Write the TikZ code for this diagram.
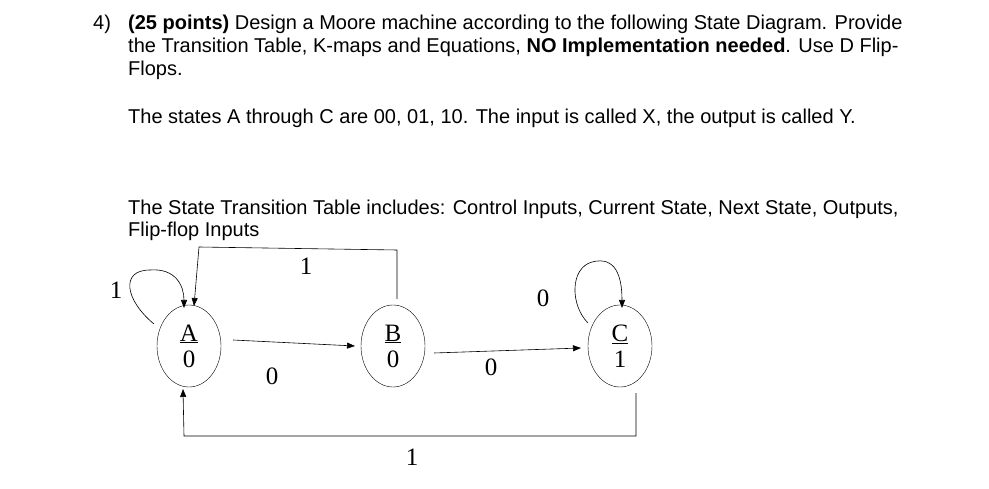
\documentclass[tikz,border=0pt]{standalone}
\usepackage{fontspec}
\setmainfont{Liberation Sans}
\newfontfamily\serifx{Liberation Serif}
\usetikzlibrary{arrows.meta,shapes.geometric}
\begin{document}
\begin{tikzpicture}[x=1pt,y=-1pt,
  st/.style={draw,ellipse,minimum width=64pt,minimum height=82pt,inner sep=0pt,font=\serifx\fontsize{25}{26}\selectfont,align=center},
  ed/.style={-{Triangle[length=8pt,width=6pt]},line width=0.6pt},
  lb/.style={font=\serifx\fontsize{25}{26}\selectfont},
  tx/.style={anchor=base west,font=\fontsize{20}{23}\selectfont,inner sep=0pt}]
\useasboundingbox (0,0) rectangle (989,489);
\node[tx] (t0) at (93,30) {4)};
\node[tx] (t1) at (128,30) {\textbf{(25 points)} Design a Moore machine according to the following State Diagram. Provide};
\node[tx] (t2) at (128,53) {the Transition Table, K-maps and Equations, \textbf{NO Implementation needed}. Use D Flip-};
\node[tx] (t3) at (128,76) {Flops.};
\node[tx] (t4) at (128,124) {The states A through C are 00, 01, 10. The input is called X, the output is called Y.};
\node[tx] (t5) at (128,215) {The State Transition Table includes: Control Inputs, Current State, Next State, Outputs,};
\node[tx] (t6) at (128,237) {Flip-flop Inputs};
\node[st] (A) at (189,346) {\underline{A}\\0};
\node[st] (B) at (393,346) {\underline{B}\\0};
\node[st] (C) at (620,346) {\underline{C}\\1};
\coordinate (Aloop) at (154,324);
\coordinate (Atop) at (184,308);
\draw[ed] (Aloop) .. controls (125,300) and (120,270) .. (150,270) .. controls (175,268) and (184,285) .. (Atop);
\node[lb] (l1) at (116,290) {1};
\coordinate (Btop) at (397,299);
\coordinate (Atop2) at (194,306);
\draw[ed] (Btop) -- (397,250) -- (199,247) -- (Atop2);
\node[lb] (l2) at (306,266) {1};
\coordinate (As) at (233,340);
\coordinate (Be) at (355,346);
\draw[ed] (As) -- (Be);
\node[lb] (l3) at (272,376) {0};
\coordinate (Bs) at (434,353);
\coordinate (Ce) at (581,348);
\draw[ed] (Bs) -- (Ce);
\node[lb] (l4) at (491,367) {0};
\coordinate (Cloop) at (588,323);
\coordinate (Ctop) at (622,308);
\draw[ed] (Cloop) .. controls (570,305) and (570,268) .. (592,262) .. controls (615,256) and (622,275) .. (Ctop);
\node[lb] (l5) at (543,298) {0};
\coordinate (Cb) at (636,393);
\coordinate (Ab) at (183,389);
\draw[ed] (Cb) -- (636,436) -- (184,436) -- (Ab);
\node[lb] (l6) at (412,457) {1};
\end{tikzpicture}
\end{document}
